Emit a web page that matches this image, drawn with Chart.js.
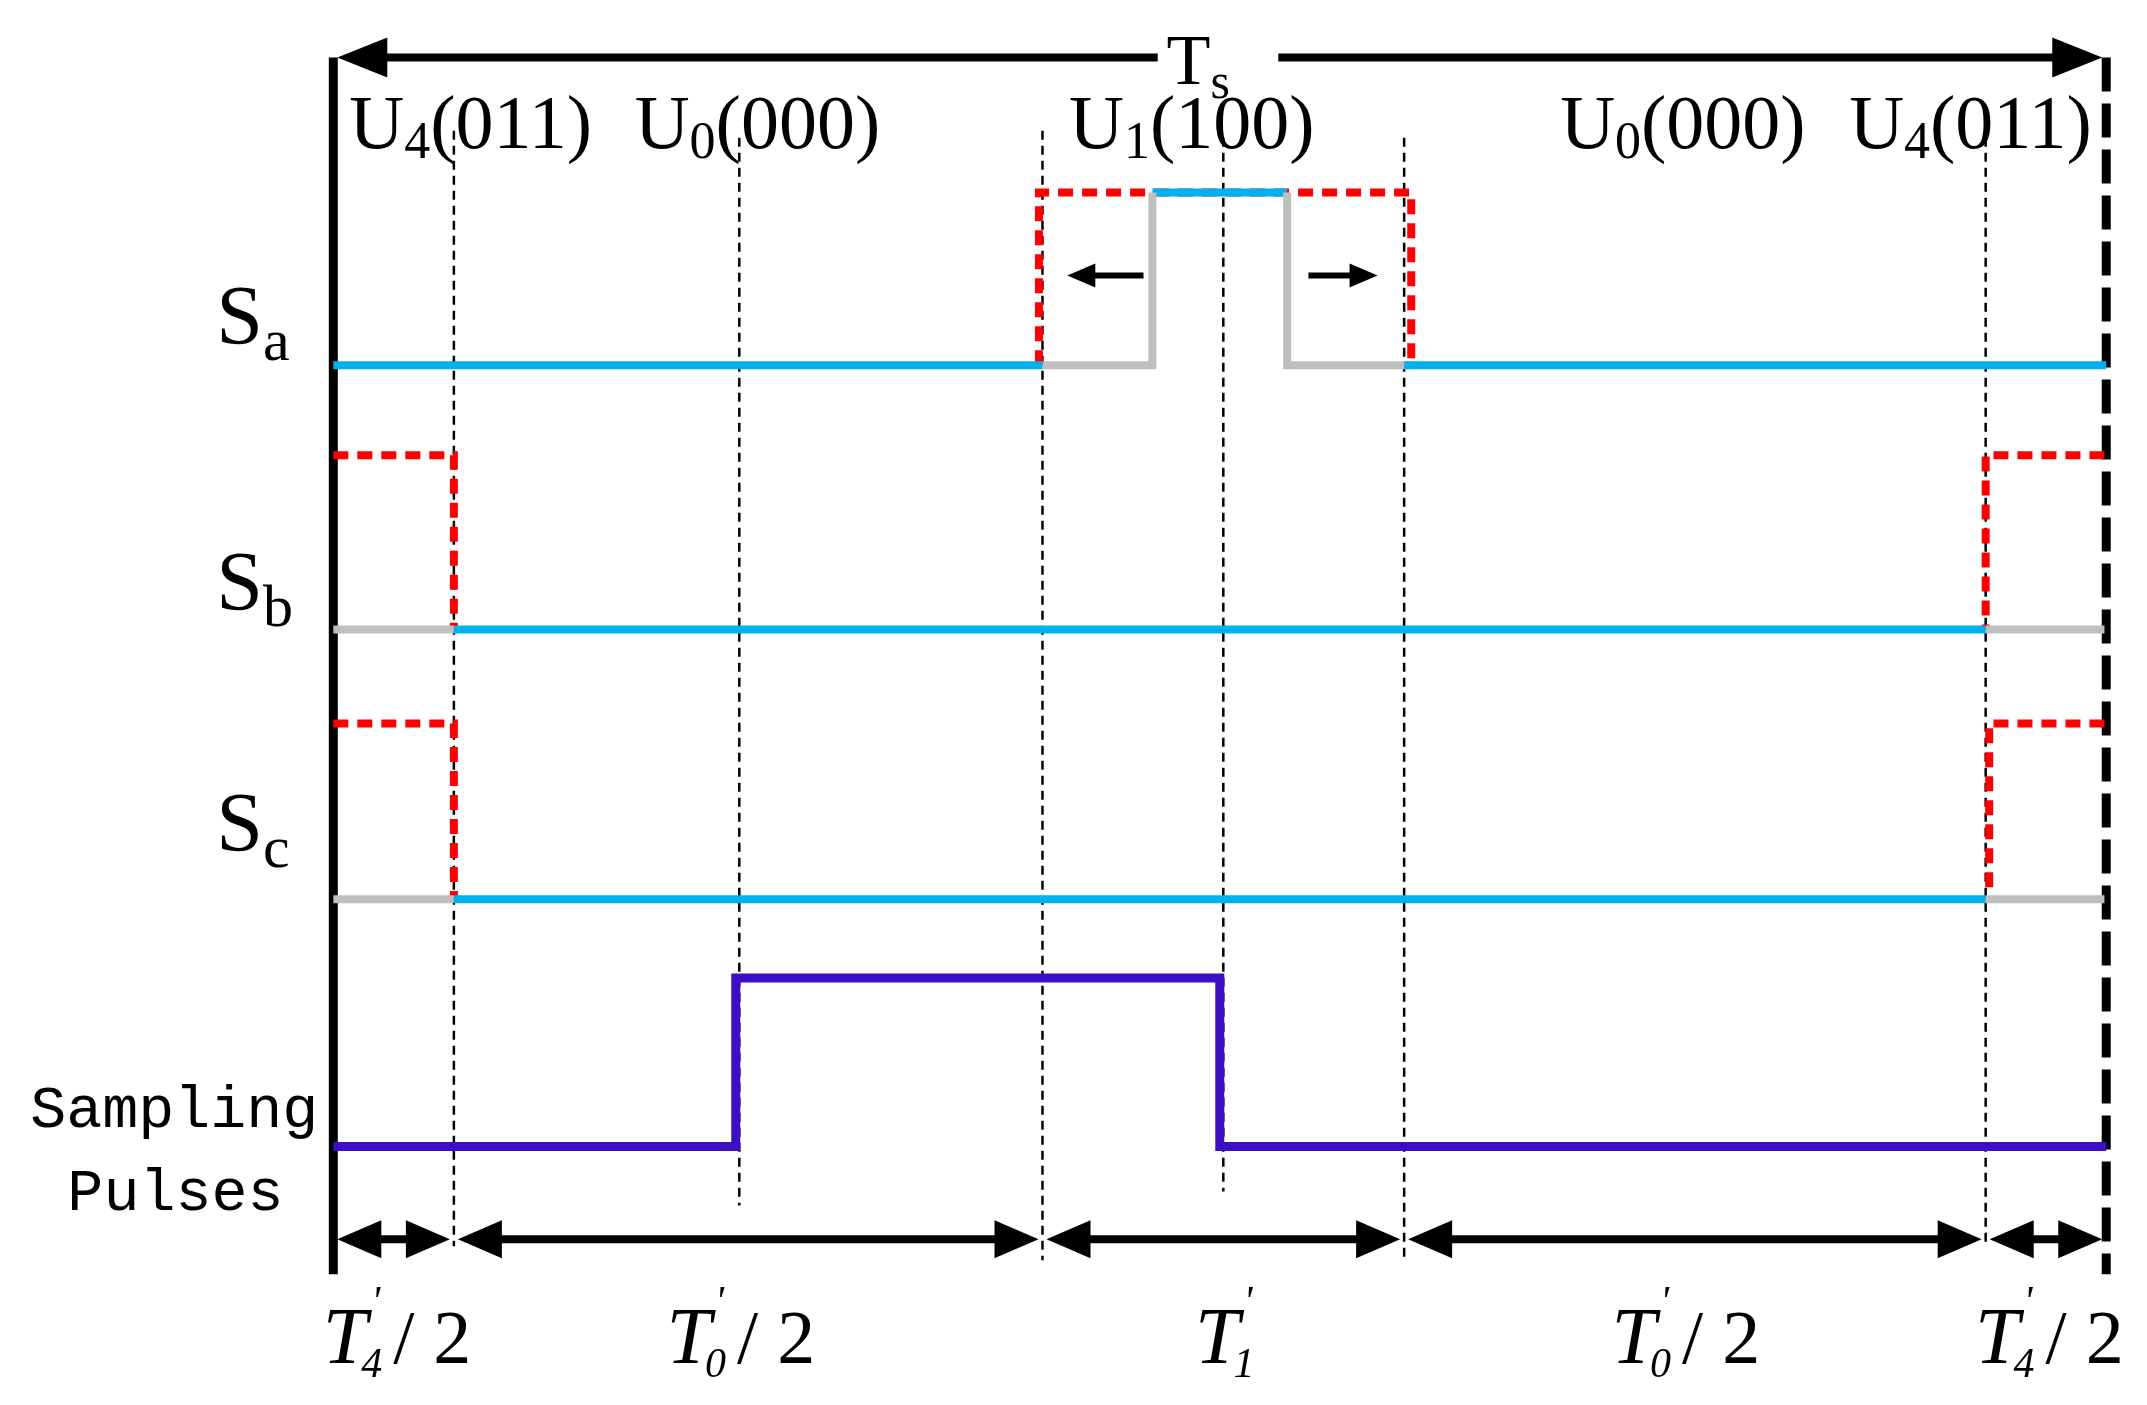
<!DOCTYPE html><html><head><meta charset="utf-8">
<script src="https://cdn.jsdelivr.net/npm/chart.js@4"></script>
<style>html,body{margin:0;background:#fff}canvas{display:block}</style></head><body>
<div style="width:2147px;height:1405px"><canvas id="c"></canvas></div>
<script>
// time axis: 0 = start of Ts, 100 = end of Ts
const boundaries = [0, 6.8, 40, 60.4, 93.2, 100];
const sampleEdges = [22.7, 50];
// signal levels [low, high]
const saLevels = [74.0, 86.3], sbLevels = [55.2, 67.6], scLevels = [36.0, 48.5], spLevels = [18.4, 30.4];
const saGrayEdges = [46.2, 53.8];
const vectorLabels = ['U4(011)','U0(000)','U1(100)','U0(000)','U4(011)'];
const vectorLabelX = [0.9, 17.0, 41.5, 69.2, 85.5];
const guideX = [6.8, 22.9, 40.0, 50.2, 60.4, 93.2];
const guideTop = [90.7, 90.2, 90.7, 90.2, 90.2, 90.2];
const guideBottom = [11.3, 14.2, 10.3, 15.2, 10.3, 11.3];
const bottomLabels = [['4','/ 2'],['0','/ 2'],['1',''],['0','/ 2'],['4','/ 2']];
const bottomLabelX = [-0.6, 18.8, 48.6, 72.1, 92.6];
const BLUE='#00b0f0', GRAY='#bfbfbf', RED='#ff0000', PURP='#3d0fc4';
const ds=(pts,color,w,dash)=>({data:pts.map(p=>({x:p[0],y:p[1]})),borderColor:color,borderWidth:w,borderDash:dash||[],pointRadius:0,showLine:true,fill:false,tension:0,borderCapStyle:'butt',borderJoinStyle:'miter'});
const [a0,a1]=saLevels,[b0,b1]=sbLevels,[c0,c1]=scLevels,[p0,p1]=spLevels;
const B=boundaries;
const datasets=[
 ds([[B[0],a0],[B[2],a0]],BLUE,8), ds([[B[3],a0],[B[5],a0]],BLUE,8),
 ds([[B[2],a0],[saGrayEdges[0],a0],[saGrayEdges[0],a1]],GRAY,8),
 ds([[saGrayEdges[1],a1],[saGrayEdges[1],a0],[B[3]+0.4,a0]],GRAY,8),
 ds([[saGrayEdges[0],a1],[saGrayEdges[1],a1]],BLUE,8),
 ds([[B[2]-0.2,a0],[B[2]-0.2,a1],[B[3]+0.4,a1],[B[3]+0.4,a0]],RED,8,[15,9]),
 ds([[B[0],b0],[B[1],b0]],GRAY,8), ds([[B[1],b0],[B[4],b0]],BLUE,8), ds([[B[4],b0],[B[5]-0.1,b0]],GRAY,8),
 ds([[B[0],b1],[B[1],b1],[B[1],b0]],RED,8,[15,9]), ds([[B[5]-0.1,b1],[B[4],b1],[B[4],b0]],RED,8,[15,9]),
 ds([[B[0],c0],[B[1],c0]],GRAY,8), ds([[B[1],c0],[B[4],c0]],BLUE,8), ds([[B[4],c0],[B[5]-0.1,c0]],GRAY,8),
 ds([[B[0],c1],[B[1],c1],[B[1],c0]],RED,8,[15,9]), ds([[B[5]-0.1,c1],[B[4]+0.2,c1],[B[4]+0.2,c0]],RED,8,[15,9]),
 ds([[B[0],p0],[sampleEdges[0],p0],[sampleEdges[0],p1],[sampleEdges[1],p1],[sampleEdges[1],p0],[B[5],p0]],PURP,9),
 ...guideX.map((x,i)=>ds([[x,guideTop[i]],[x,guideBottom[i]]],'#000',2.5,[9,6])),
 ds([[0,95.9],[0,9.3]],'#000',9),
 ds([[100,95.9],[100,9.3]],'#000',9,[34,12]),
];
function arrowHead(ctx,x,y,dir,len,h){ctx.beginPath();ctx.moveTo(x,y);ctx.lineTo(x-dir*len,y-h);ctx.lineTo(x-dir*len,y+h);ctx.closePath();ctx.fill();}
function dbl(ctx,x1,x2,y){ctx.lineWidth=8;ctx.beginPath();ctx.moveTo(x1+20,y);ctx.lineTo(x2-20,y);ctx.stroke();arrowHead(ctx,x1,y,-1,44,19);arrowHead(ctx,x2,y,1,44,19);}
function rich(ctx,x,y,parts){
 for(const [t,s,dy,it] of parts){ctx.font=(it?'italic ':'')+s+'px "Liberation Serif"';ctx.fillText(t,x,y+dy);x+=ctx.measureText(t).width;}}
const deco={id:'deco',afterDatasetsDraw(ch){
 const ctx=ch.ctx,X=ch.scales.x,Y=ch.scales.y;ctx.save();ctx.fillStyle='#000';ctx.strokeStyle='#000';ctx.textBaseline='alphabetic';
 const ty=Y.getPixelForValue(95.9);
 ctx.lineWidth=8;ctx.beginPath();ctx.moveTo(X.getPixelForValue(0)+20,ty);ctx.lineTo(X.getPixelForValue(46.5),ty);ctx.moveTo(X.getPixelForValue(53.3),ty);ctx.lineTo(X.getPixelForValue(100)-20,ty);ctx.stroke();
 arrowHead(ctx,X.getPixelForValue(0)+4,ty,-1,50,20);arrowHead(ctx,X.getPixelForValue(100)-4,ty,1,50,20);
 rich(ctx,X.getPixelForValue(47.0),Y.getPixelForValue(94.0),[['T',72,0],['s',50,14]]);
 const by=Y.getPixelForValue(11.8);
 for(let i=0;i<B.length-1;i++)dbl(ctx,X.getPixelForValue(B[i])+4,X.getPixelForValue(B[i+1])-4,by);
 const sy=Y.getPixelForValue(80.4);ctx.lineWidth=6;
 ctx.beginPath();ctx.moveTo(X.getPixelForValue(45.7),sy);ctx.lineTo(X.getPixelForValue(42.5),sy);ctx.moveTo(X.getPixelForValue(55.0),sy);ctx.lineTo(X.getPixelForValue(57.8),sy);ctx.stroke();
 arrowHead(ctx,X.getPixelForValue(41.4),sy,-1,28,12);arrowHead(ctx,X.getPixelForValue(58.9),sy,1,28,12);
 const vy=Y.getPixelForValue(89.5);
 vectorLabels.forEach((l,i)=>rich(ctx,X.getPixelForValue(vectorLabelX[i]),vy,[[l[0],76,0],[l[1],52,10],[l.slice(2),76,0]]));
 [['a',75.5],['b',56.6],['c',39.4]].forEach(([s,y])=>rich(ctx,X.getPixelForValue(-6.6),Y.getPixelForValue(y),[['S',84,0],[s,60,16]]));
 ctx.font='60px "Liberation Mono"';
 ctx.fillText('Sampling',X.getPixelForValue(-17.1),Y.getPixelForValue(19.8));
 ctx.fillText('Pulses',X.getPixelForValue(-15.0),Y.getPixelForValue(13.9));
 const ly=Y.getPixelForValue(3.0);
 bottomLabels.forEach(([s,r],i)=>{let x=X.getPixelForValue(bottomLabelX[i]);
  ctx.font='italic 80px "Liberation Serif"';ctx.fillText('T',x,ly);const w=ctx.measureText('T').width;
  ctx.font='italic 42px "Liberation Serif"';ctx.fillText("'",x+w+4,ly-48);ctx.fillText(s,x+w-6,ly+14);
  if(r){ctx.font='76px "Liberation Serif"';ctx.fillText(r,x+w+26,ly);}});
 ctx.restore();}};
new Chart(document.getElementById('c'),{type:'scatter',data:{datasets},plugins:[deco],
 options:{responsive:true,maintainAspectRatio:false,animation:false,layout:{padding:0},
 plugins:{legend:{display:false},tooltip:{enabled:false}},
 scales:{x:{type:'linear',min:-18.8,max:102.3,display:false},y:{type:'linear',min:0,max:100,display:false}}}});
</script></body></html>
